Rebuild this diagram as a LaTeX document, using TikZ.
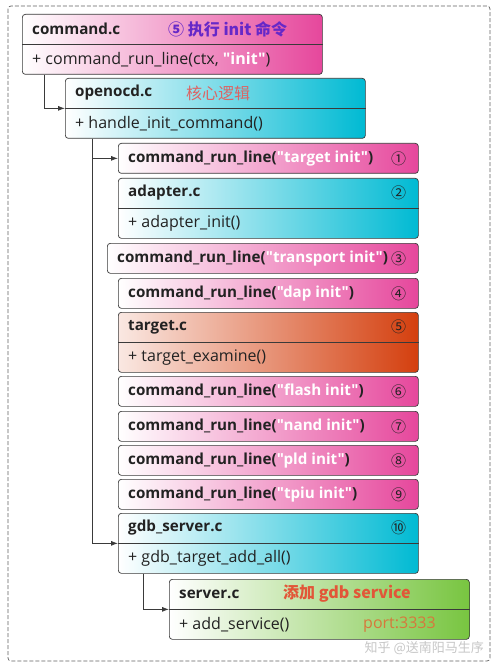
\documentclass[tikz,border=0pt]{standalone}
\usepackage{fontspec}
\setmainfont{Open Sans}[Ligatures=TeXOff]
\newfontfamily\cjk{Noto Sans CJK SC}
\usetikzlibrary{arrows.meta,calc}
\usepackage{xcolor}

\definecolor{boxline}{HTML}{3A3A3A}
\definecolor{txt}{HTML}{222222}
\definecolor{pinkR}{HTML}{E6479C}
\definecolor{cyanR}{HTML}{00BAD3}
\definecolor{orangeR}{HTML}{D43F0E}
\definecolor{greenR}{HTML}{78C540}
\definecolor{violetT}{HTML}{6628C8}
\definecolor{redT}{HTML}{DC6464}
\definecolor{addT}{HTML}{E25638}
\definecolor{portT}{HTML}{D6783C}

\newcommand{\dq}{\symbol{34}}
\newcommand{\qt}[1]{\textcolor{white}{\dq#1\dq}}

\begin{document}
\begin{tikzpicture}[x=1pt, y=-1pt,
    font=\fontsize{16}{18}\selectfont, text=txt,
    classbox/.style={draw=boxline, line width=0.7pt, rounded corners=3pt,
        anchor=north west, inner sep=0pt, minimum width=300pt,
        minimum height=60pt, left color=white, right color=#1},
    cmdbox/.style={classbox=pinkR, minimum height=30pt},
    divline/.style={draw=boxline, line width=0.6pt},
    head/.style={anchor=west, inner sep=0pt, font=\fontsize{15.2}{18}\selectfont\bfseries},
    member/.style={anchor=west, inner sep=0pt},
    num/.style={inner sep=0pt, font=\cjk\fontsize{15}{17}\selectfont},
    conn/.style={draw=boxline, line width=0.8pt, -{Latex[length=7pt,width=5pt]}}]

    \useasboundingbox (0,0) rectangle (496,668);

    % Outer frame
    \draw[boxline!80, line width=0.7pt, dash pattern=on 4pt off 2pt, rounded corners=3pt] (8,6) rectangle (490,661);

    % Boxes
    \node[classbox=pinkR] (command) at (22,14) {};
    \node[classbox=cyanR] (openocd) at (65,78) {};
    \node[cmdbox] (tinit) at (118,143) {};
    \node[classbox=cyanR] (adapter) at (118,178) {};
    \node[cmdbox, minimum width=311pt] (trinit) at (107,243) {};
    \node[cmdbox] (dinit) at (118,278) {};
    \node[classbox=orangeR, left color=orangeR!12!white] (target) at (118,312) {};
    \node[cmdbox] (finit) at (118,376) {};
    \node[cmdbox] (ninit) at (118,411) {};
    \node[cmdbox] (pinit) at (118,445) {};
    \node[cmdbox] (tpinit) at (118,479) {};
    \node[classbox=cyanR] (gdbsrv) at (118,513) {};
    \node[classbox=greenR] (server) at (169,579) {};

    % Dividers
    \foreach \b in {command,openocd,adapter,target,gdbsrv,server}
        \draw[divline] (\b.west) -- (\b.east);

    % command.c
    \node[head] (commandT) at ([xshift=10pt,yshift=-15pt]command.north west) {command.c};
    \node[head, font=\cjk\fontsize{16}{18}\selectfont\bfseries, text=violetT] (commandN)
        at ([xshift=146pt,yshift=-15pt]command.north west) {⑤ 执行 init 命令};
    \node[member] (commandM) at ([xshift=10pt,yshift=15pt]command.south west)
        {+ command\_run\_line(ctx, \textbf{\qt{init}})};

    % openocd.c
    \node[head] (openocdT) at ([xshift=10pt,yshift=-15pt]openocd.north west) {openocd.c};
    \node[head, font=\cjk\fontsize{16}{18}\selectfont, text=redT] (openocdN)
        at ([xshift=121pt,yshift=-15pt]openocd.north west) {核心逻辑};
    \node[member] (openocdM) at ([xshift=10pt,yshift=15pt]openocd.south west)
        {+ handle\_init\_command()};

    % init steps
    \node[head] (tinitT) at ([xshift=10pt]tinit.west) {command\_run\_line(\qt{target init})};
    \node[num] (tinitN) at ([xshift=-20pt]tinit.east) {①};

    \node[head] (adapterT) at ([xshift=10pt,yshift=-15pt]adapter.north west) {adapter.c};
    \node[num] (adapterN) at ([xshift=-20pt,yshift=-15pt]adapter.north east) {②};
    \node[member] (adapterM) at ([xshift=10pt,yshift=15pt]adapter.south west) {+ adapter\_init()};

    \node[head] (trinitT) at ([xshift=10pt]trinit.west) {command\_run\_line(\qt{transport init})};
    \node[num] (trinitN) at ([xshift=-20pt]trinit.east) {③};

    \node[head] (dinitT) at ([xshift=10pt]dinit.west) {command\_run\_line(\qt{dap init})};
    \node[num] (dinitN) at ([xshift=-20pt]dinit.east) {④};

    \node[head] (targetT) at ([xshift=10pt,yshift=-15pt]target.north west) {target.c};
    \node[num] (targetN) at ([xshift=-20pt,yshift=-15pt]target.north east) {⑤};
    \node[member] (targetM) at ([xshift=10pt,yshift=15pt]target.south west) {+ target\_examine()};

    \node[head] (finitT) at ([xshift=10pt]finit.west) {command\_run\_line(\qt{flash init})};
    \node[num] (finitN) at ([xshift=-20pt]finit.east) {⑥};

    \node[head] (ninitT) at ([xshift=10pt]ninit.west) {command\_run\_line(\qt{nand init})};
    \node[num] (ninitN) at ([xshift=-20pt]ninit.east) {⑦};

    \node[head] (pinitT) at ([xshift=10pt]pinit.west) {command\_run\_line(\qt{pld init})};
    \node[num] (pinitN) at ([xshift=-20pt]pinit.east) {⑧};

    \node[head] (tpinitT) at ([xshift=10pt]tpinit.west) {command\_run\_line(\qt{tpiu init})};
    \node[num] (tpinitN) at ([xshift=-20pt]tpinit.east) {⑨};

    % gdb_server.c
    \node[head] (gdbsrvT) at ([xshift=10pt,yshift=-15pt]gdbsrv.north west) {gdb\_server.c};
    \node[num] (gdbsrvN) at ([xshift=-20pt,yshift=-15pt]gdbsrv.north east) {⑩};
    \node[member] (gdbsrvM) at ([xshift=10pt,yshift=15pt]gdbsrv.south west) {+ gdb\_target\_add\_all()};

    % server.c
    \node[head] (serverT) at ([xshift=10pt,yshift=-15pt]server.north west) {server.c};
    \node[head, font=\cjk\fontsize{16}{18}\selectfont\bfseries, text=addT] (serverN)
        at ([xshift=114pt,yshift=-15pt]server.north west) {添加 gdb service};
    \node[member] (serverM) at ([xshift=10pt,yshift=15pt]server.south west) {+ add\_service()};
    \node[member, text=portT] (serverP) at ([xshift=194pt,yshift=15pt]server.south west) {port:3333};

    % Watermark
    \node[anchor=east, inner sep=0pt, font=\cjk\fontsize{13}{15}\selectfont, text=gray!45] (wmark)
        at (484,648) {知乎 @送南阳马生序};

    % Connectors
    \draw[conn] ([xshift=22pt]command.south west) |- (openocd.west);
    \draw[conn] ([xshift=27pt]openocd.south west) |- (tinit.west);
    \draw[conn] ([xshift=27pt]openocd.south west) |- (gdbsrv.west);
    \draw[conn] ([xshift=25pt]gdbsrv.south west) |- (server.west);
\end{tikzpicture}
\end{document}
